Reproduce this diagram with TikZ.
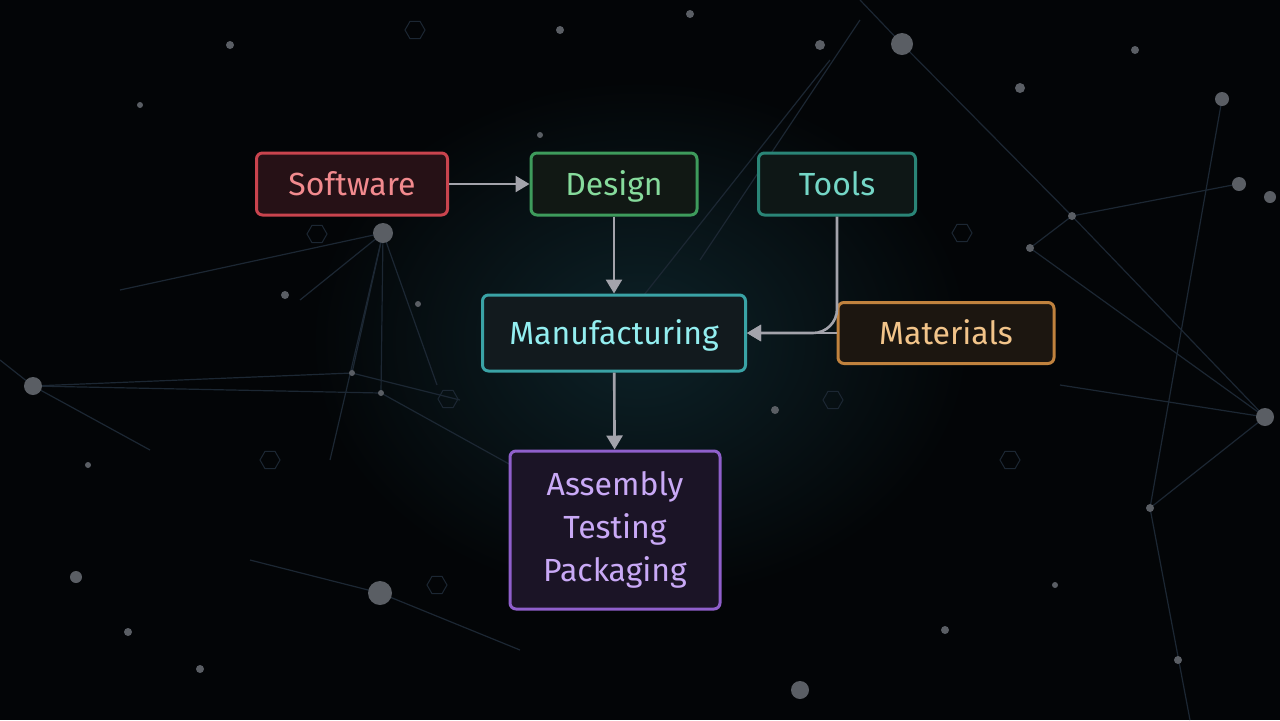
\documentclass[tikz,border=0pt]{standalone}
\usepackage{fontspec}
\setmainfont{Fira Sans}
\usetikzlibrary{arrows.meta,positioning,shapes.geometric}

\definecolor{bgblack}{HTML}{030507}
\definecolor{netline}{HTML}{1C2733}
\definecolor{netdot}{HTML}{5A5E64}
\definecolor{hazeteal}{HTML}{0D2228}
\definecolor{flowgray}{HTML}{A3A3AB}
\definecolor{swline}{HTML}{C9444E}\definecolor{swfill}{HTML}{261116}\definecolor{swtext}{HTML}{F28A8E}
\definecolor{dsline}{HTML}{3E9B5C}\definecolor{dsfill}{HTML}{111814}\definecolor{dstext}{HTML}{86DB9C}
\definecolor{tlline}{HTML}{2A8577}\definecolor{tlfill}{HTML}{0E1716}\definecolor{tltext}{HTML}{74D6C6}
\definecolor{mfline}{HTML}{3AA3A6}\definecolor{mffill}{HTML}{121A1E}\definecolor{mftext}{HTML}{93EEF0}
\definecolor{mtline}{HTML}{C0823E}\definecolor{mtfill}{HTML}{1C1610}\definecolor{mttext}{HTML}{F2C48A}
\definecolor{asline}{HTML}{8F5FCB}\definecolor{asfill}{HTML}{1B1426}\definecolor{astext}{HTML}{C9A9F6}

\tikzset{
    stage/.style={draw, line width=1.5pt, rounded corners=3pt, align=center,
        inner sep=0pt, minimum height=31pt, font=\fontsize{16}{21.5}\selectfont},
    oneline/.style={text height=13pt, text depth=2pt},
    flow/.style={draw=flowgray, line width=1.3pt, -{Triangle[length=7pt,width=8pt]}},
    hexa/.style={draw=netline, regular polygon, regular polygon sides=6,
        minimum size=10pt, inner sep=0pt, line width=0.5pt},
}

\begin{document}
\begin{tikzpicture}[x=0.5pt,y=-0.5pt]
    \useasboundingbox (0,0) rectangle (1280,720);
    \fill[bgblack] (0,0) rectangle (1280,720);
    %% haze behind the diagram
    \shade[inner color=hazeteal, outer color=bgblack] (640,340) ellipse (330 and 260);
    %% network lines
    \foreach \xa/\ya/\xb/\yb in {383/233/352/373, 383/233/381/393, 383/233/437/385,
            383/233/300/300, 383/233/120/290, 383/233/330/460,
            33/386/381/393, 33/386/352/373, 33/386/150/450, 33/386/0/360,
            381/393/520/470, 352/373/460/400, 380/593/250/560, 380/593/520/650,
            902/44/1072/216, 1072/216/1265/417, 1072/216/1238/184,
            1030/248/1265/417, 1030/248/1072/216, 1265/417/1150/508,
            1265/417/1060/385, 1150/508/1222/99, 1150/508/1190/720,
            902/44/860/0, 700/260/860/20, 640/300/830/60} {
        \draw[netline, line width=0.6pt] (\xa,\ya) -- (\xb,\yb);
    }
    %% network dots
    \foreach \x/\y/\r in {902/44/11, 383/233/10, 33/386/9, 1265/417/9, 1222/99/7,
            1239/184/7, 1270/197/6, 380/593/12, 76/577/6, 800/690/9, 1150/508/4,
            1030/248/4, 1072/216/4, 352/373/3, 381/393/3, 775/410/4, 128/632/4,
            200/669/4, 230/45/4, 140/105/3, 1135/50/4, 1020/88/5, 945/630/4,
            560/30/4, 690/14/4, 1178/660/4, 285/295/4, 418/304/3, 88/465/3,
            820/45/5, 540/135/3, 1055/585/3} {
        \fill[netdot] (\x,\y) circle (\r*0.5pt);
    }
    %% hexagons
    \foreach \x/\y in {317/234, 448/399, 270/460, 833/400, 962/233, 437/585, 415/30, 1010/460} {
        \node[hexa] at (\x,\y) {};
    }

    %% stages
    \node[stage, oneline, draw=swline, fill=swfill, text=swtext, minimum width=95.5pt] (software) at (352,184) {Software};
    \node[stage, oneline, draw=dsline, fill=dsfill, text=dstext, minimum width=83pt] (design) at (614,184) {Design};
    \node[stage, oneline, draw=tlline, fill=tlfill, text=tltext, minimum width=78.5pt] (tools) at (837,184) {Tools};
    \node[stage, oneline, draw=mfline, fill=mffill, text=mftext, minimum width=131.5pt, minimum height=38pt] (manufacturing) at (614,333) {Manufacturing};
    \node[stage, oneline, draw=mtline, fill=mtfill, text=mttext, minimum width=108pt, minimum height=30.5pt] (materials) at (946,333) {Materials};
    \node[stage, draw=asline, fill=asfill, text=astext, minimum width=105pt, minimum height=79pt] (finishing) at (615,530) {Assembly\\Testing\\Packaging};

    %% flows
    \draw[flow] (software) -- (design);
    \draw[flow] (design) -- (manufacturing);
    \draw[flow, rounded corners=12pt] (tools.south) |- (manufacturing.east);
    \draw[flow] (materials) -- (manufacturing);
    \draw[flow] (manufacturing) -- (finishing);
\end{tikzpicture}
\end{document}
